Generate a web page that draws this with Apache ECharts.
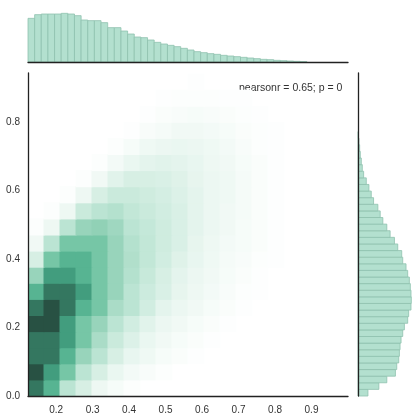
<!DOCTYPE html>
<html><head><meta charset="utf-8">
<script src="https://cdn.jsdelivr.net/npm/echarts@6/dist/echarts.min.js"></script>
<style>html,body{margin:0;padding:0;background:#fff}#c{width:420px;height:420px}</style>
</head><body><div id="c"></div>
<script>
// main hex density: rows from bottom (y) upward, columns along x
const xMin = 0.123, xMax = 1.0, yMin = 0, yMax = 0.943;
const cellW = 0.04385, cellH = 0.047;
const density = [
 [8,6,3,2,1,0.5,0.2,0,0,0,0,0,0,0,0,0,0,0,0,0],
 [9,7,5,3,2,1.2,0.7,0.4,0.2,0,0,0,0,0,0,0,0,0,0,0],
 [8,8,6,4,3,2,1.3,0.9,0.5,0.3,0.1,0,0,0,0,0,0,0,0,0],
 [8,8,7,5,3.5,2.5,1.8,1.2,0.8,0.5,0.3,0.1,0,0,0,0,0,0,0,0],
 [9,9,7,5,4,3,2.2,1.6,1.1,0.8,0.5,0.3,0.1,0,0,0,0,0,0,0],
 [8,9,8,6,5,3.5,3,2.2,1.5,1.1,0.8,0.5,0.3,0.1,0,0,0,0,0,0],
 [6,8,8,7,5,4,3,2.4,1.9,1.4,1,0.7,0.4,0.2,0.1,0,0,0,0,0],
 [4,7,7,6,5,4,3.2,2.6,2,1.5,1.1,0.8,0.5,0.3,0.1,0,0,0,0,0],
 [2,5,6,6,5,4,3.3,2.8,2.2,1.7,1.3,0.9,0.6,0.4,0.2,0.1,0,0,0,0],
 [0.8,3,5,5,5,4,3.2,2.8,2.3,1.9,1.4,1,0.7,0.5,0.3,0.1,0,0,0,0],
 [0.2,1,3,4,4.2,3.8,3,2.7,2.3,1.9,1.5,1.1,0.8,0.5,0.3,0.1,0,0,0,0],
 [0,0.2,1,2.5,3,3.2,2.8,2.5,2.2,1.9,1.5,1.1,0.8,0.6,0.3,0.1,0,0,0,0],
 [0,0,0.2,1,2,2.5,2.5,2.3,2.1,1.8,1.5,1.1,0.9,0.6,0.3,0.1,0,0,0,0],
 [0,0,0,0.2,0.8,1.6,2,2,1.9,1.7,1.4,1.1,0.9,0.6,0.3,0.1,0,0,0,0],
 [0,0,0,0,0.2,0.7,1.2,1.5,1.6,1.5,1.3,1,0.8,0.5,0.3,0.1,0,0,0,0],
 [0,0,0,0,0,0.2,0.5,0.9,1.1,1.2,1.1,0.9,0.7,0.4,0.2,0.1,0,0,0,0],
 [0,0,0,0,0,0,0.1,0.4,0.6,0.8,0.8,0.7,0.5,0.3,0.2,0.1,0,0,0,0],
 [0,0,0,0,0,0,0,0.1,0.3,0.4,0.5,0.4,0.3,0.2,0.1,0,0,0,0,0],
 [0,0,0,0,0,0,0,0,0.1,0.2,0.2,0.2,0.1,0.1,0,0,0,0,0,0],
 [0,0,0,0,0,0,0,0,0,0,0.1,0,0,0,0,0,0,0,0,0]
];
// top marginal histogram (x)
const xBinStart = 0.123, xBinW = 0.0182;
const xCounts = [131,142,144,144,144,146,144,139,126,124,124,118,103,103,93,84,75,73,66,59,54,50,46,41,36,31,28,25,23,20,18,16,14,12,10,8,7,5,4,3,2,1];
// right marginal histogram (y), from bottom
const yBinStart = 0, yBinW = 0.0193;
const yCounts = [30,63,87,113,117,123,125,127,130,135,140,150,153,160,161,160,158,155,150,145,135,132,120,110,97,87,75,67,60,47,40,33,25,17,13,10,7,5,3,1];
const xTicks = [0.2,0.3,0.4,0.5,0.6,0.7,0.8,0.9];
const yTicks = [0.0,0.2,0.4,0.6,0.8];

const hexData = [];
density.forEach((row,r)=>row.forEach((v,c)=>{ if(v>0) hexData.push([xMin+cellW*(c+0.5), yMin+cellH*(r+0.5), v]); }));
const xHist = xCounts.map((v,i)=>[xBinStart+i*xBinW, xBinStart+(i+1)*xBinW, v]);
const yHist = yCounts.map((v,i)=>[yBinStart+i*yBinW, yBinStart+(i+1)*yBinW, v]);

const ch = echarts.init(document.getElementById('c'));
const txt = {color:'#333', fontSize:10, fontFamily:'Liberation Sans'};
const axLine = {show:true, lineStyle:{color:'#222', width:1.3}};
ch.setOption({
 animation:false,
 grid:[
  {left:28,right:72,top:73,bottom:24},
  {left:28,right:72,top:13,height:49},
  {left:358,right:8,top:73,bottom:24}
 ],
 xAxis:[
  {gridIndex:0,z:10,type:'value',min:xMin,max:xMax,axisLine:axLine,axisTick:{show:false},splitLine:{show:false},
   axisLabel:Object.assign({margin:9,customValues:xTicks,formatter:v=>v.toFixed(1)},txt)},
  {gridIndex:1,z:10,type:'value',min:xMin,max:xMax,axisLine:axLine,axisTick:{show:false},splitLine:{show:false},axisLabel:{show:false}},
  {gridIndex:2,type:'value',min:0,max:163,axisLine:{show:false},axisTick:{show:false},splitLine:{show:false},axisLabel:{show:false}}
 ],
 yAxis:[
  {gridIndex:0,z:10,type:'value',min:yMin,max:yMax,axisLine:axLine,axisTick:{show:false},splitLine:{show:false},
   axisLabel:Object.assign({margin:8,customValues:yTicks,formatter:v=>v.toFixed(1)},txt)},
  {gridIndex:1,type:'value',min:0,max:147,axisLine:{show:false},axisTick:{show:false},splitLine:{show:false},axisLabel:{show:false}},
  {gridIndex:2,z:10,type:'value',min:yMin,max:yMax,axisLine:axLine,axisTick:{show:false},splitLine:{show:false},axisLabel:{show:false}}
 ],
 visualMap:{show:false,seriesIndex:0,dimension:2,min:0,max:10,
  inRange:{color:['#ffffff','#e6f5ee','#c0e6d6','#8ed0b4','#5dbb98','#3f9a7b','#2c5f4e','#1d302a']}},
 graphic:[{type:'text',left:239,top:83,style:{text:'pearsonr = 0.65; p = 0',fill:'#333',font:'10.5px Liberation Sans'}}],
 series:[
  {type:'custom',z:1,xAxisIndex:0,yAxisIndex:0,data:hexData,clip:true,
   renderItem:(p,api)=>{
     const c=api.coord([api.value(0),api.value(1)]);
     const s=api.size([cellW,cellH]);
     const w=s[0]/2+0.5,h=s[1]/2+0.5;
     return {type:'rect',shape:{x:c[0]-w,y:c[1]-h,width:2*w,height:2*h},style:{fill:api.visual('color')}};
   }},
  {type:'custom',xAxisIndex:1,yAxisIndex:1,data:xHist,
   renderItem:(p,api)=>{
     const a=api.coord([api.value(0),api.value(2)]), b=api.coord([api.value(1),0]);
     return {type:'rect',shape:{x:a[0],y:a[1],width:b[0]-a[0],height:b[1]-a[1]},style:{fill:'#b3e0cf',stroke:'#8fc2ae',lineWidth:0.8}};
   }},
  {type:'custom',xAxisIndex:2,yAxisIndex:2,data:yHist,
   renderItem:(p,api)=>{
     const a=api.coord([api.value(2),api.value(1)]), b=api.coord([0,api.value(0)]);
     return {type:'rect',shape:{x:b[0],y:a[1],width:a[0]-b[0],height:b[1]-a[1]},style:{fill:'#b3e0cf',stroke:'#8fc2ae',lineWidth:0.8}};
   }}
 ]
});
</script></body></html>
